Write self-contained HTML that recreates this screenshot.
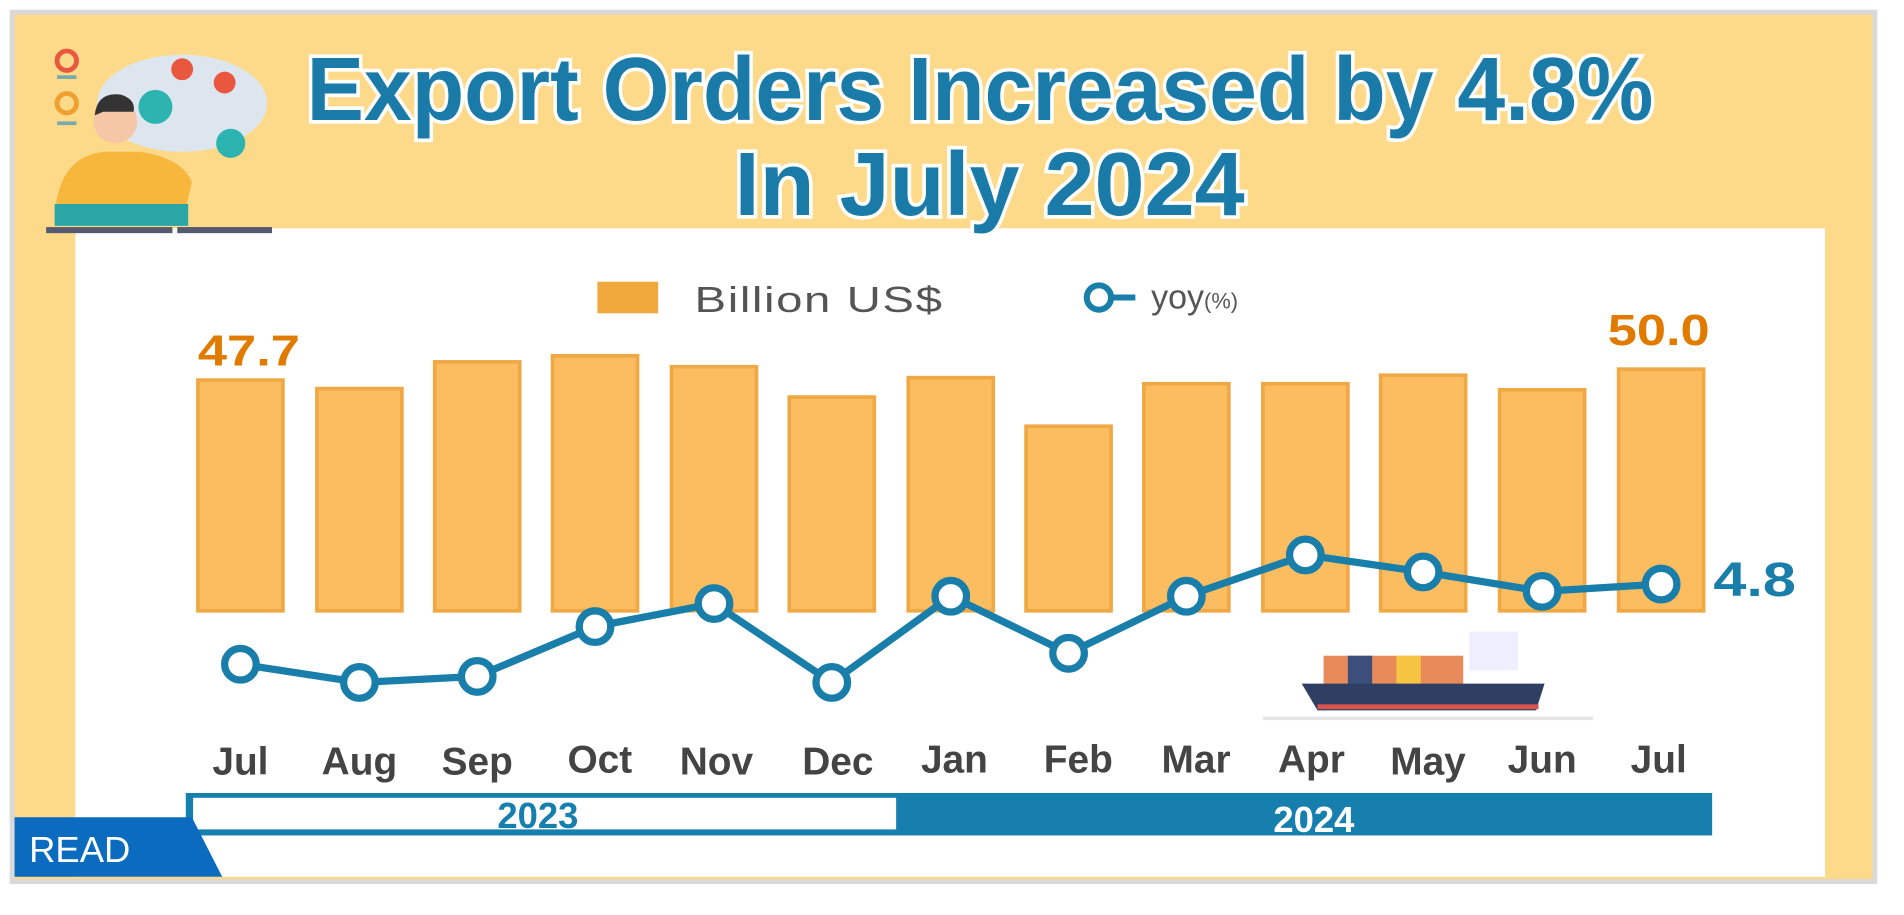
<!DOCTYPE html>
<html><head><meta charset="utf-8"><style>
html,body{margin:0;padding:0;background:#fff;}
svg{display:block;}
text{font-family:"Liberation Sans","DejaVu Sans",sans-serif;}
</style></head><body>
<svg width="1904" height="915" viewBox="0 0 1568 753.5" preserveAspectRatio="none">
<rect x="0" y="0" width="1568" height="753.5" fill="#fff"/>
<rect x="8" y="8" width="1538" height="720" fill="#d9d9d9"/>
<rect x="12" y="12" width="1530" height="712" fill="#fdd98a"/>
<rect x="62" y="188" width="1441" height="534" fill="#fff"/>
<g>
<ellipse cx="150" cy="85" rx="70" ry="40" fill="#dde6ef"/>
<circle cx="55" cy="50" r="8" fill="none" stroke="#e9573f" stroke-width="4"/>
<circle cx="55" cy="85" r="8" fill="none" stroke="#f0a030" stroke-width="4"/>
<rect x="47" y="62" width="16" height="3" fill="#7aa"/><rect x="47" y="100" width="16" height="3" fill="#7aa"/>
<circle cx="150" cy="57" r="9" fill="#e9573f"/><circle cx="185" cy="68" r="9" fill="#e9573f"/>
<circle cx="128" cy="88" r="14" fill="#2db3b0"/><circle cx="190" cy="118" r="12" fill="#2db3b0"/>
<path d="M45 185 Q45 130 85 125 L115 125 Q150 130 158 150 L150 185 Z" fill="#f6b73c"/>
<rect x="45" y="168" width="110" height="18" fill="#2aa6a6"/>
<circle cx="95" cy="100" r="18" fill="#f5c7a6"/><path d="M78 95 Q80 75 100 78 Q112 82 110 92 L85 92 Z" fill="#333"/>
<rect x="38" y="187" width="104" height="5" fill="#555a70"/><rect x="146" y="187" width="78" height="5" fill="#555a70"/>
</g>
<g font-weight="bold" fill="#1a7ba8" stroke="#fff" stroke-width="6" paint-order="stroke" text-anchor="middle" font-size="74">
<text x="807" y="99" textLength="1109" lengthAdjust="spacingAndGlyphs">Export Orders Increased by 4.8%</text>
<text x="815" y="177" textLength="420" lengthAdjust="spacingAndGlyphs">In  July 2024</text>
</g>
<rect x="492" y="232" width="50" height="26" fill="#f0a83c"/>
<text x="572" y="257" font-size="30" fill="#555" letter-spacing="1" textLength="205" lengthAdjust="spacingAndGlyphs">Billion US$</text>
<circle cx="905" cy="245" r="10" fill="#fff" stroke="#1a7eaa" stroke-width="5"/>
<line x1="915" y1="245" x2="935" y2="245" stroke="#1a7eaa" stroke-width="5"/>
<text x="948" y="254" font-size="28" fill="#555">yoy<tspan font-size="18">(%)</tspan></text>
<g fill="#fcbd61" stroke="#f0a844" stroke-width="3">
<rect x="163" y="313" width="70" height="190"/>
<rect x="261" y="320" width="70" height="183"/>
<rect x="358" y="298" width="70" height="205"/>
<rect x="455" y="293" width="70" height="210"/>
<rect x="553" y="302" width="70" height="201"/>
<rect x="650" y="327" width="70" height="176"/>
<rect x="748" y="311" width="70" height="192"/>
<rect x="845" y="351" width="70" height="152"/>
<rect x="942" y="316" width="70" height="187"/>
<rect x="1040" y="316" width="70" height="187"/>
<rect x="1137" y="309" width="70" height="194"/>
<rect x="1235" y="321" width="70" height="182"/>
<rect x="1333" y="304" width="70" height="199"/>
</g>
<text x="205" y="301" font-size="36" font-weight="bold" fill="#e07b00" text-anchor="middle" textLength="84" lengthAdjust="spacingAndGlyphs">47.7</text>
<text x="1366" y="284" font-size="36" font-weight="bold" fill="#e07b00" text-anchor="middle" textLength="84" lengthAdjust="spacingAndGlyphs">50.0</text>
<g>
<rect x="1210" y="520" width="40" height="32" fill="#eef"/>
<rect x="1090" y="540" width="115" height="25" fill="#e98a5a"/>
<rect x="1110" y="540" width="20" height="25" fill="#3b4f7a"/><rect x="1150" y="540" width="20" height="25" fill="#f6c440"/>
<path d="M1072 563 L1272 563 L1265 585 L1085 585 Z" fill="#2e3f63"/>
<rect x="1085" y="580" width="182" height="4" fill="#d9534f"/>
<rect x="1040" y="590" width="272" height="3" fill="#e5e5e5"/>
</g>
<polyline fill="none" stroke="#1a7eaa" stroke-width="6" stroke-linejoin="round" points="198,547 296,562 393,557 490,516 588,497 685,562 783,491 880,538 977,491 1075,457 1172,471 1270,487 1368,481"/>
<g fill="#fff" stroke="#1a7eaa" stroke-width="6">
<circle cx="198" cy="547" r="13"/><circle cx="296" cy="562" r="13"/><circle cx="393" cy="557" r="13"/>
<circle cx="490" cy="516" r="13"/><circle cx="588" cy="497" r="13"/><circle cx="685" cy="562" r="13"/>
<circle cx="783" cy="491" r="13"/><circle cx="880" cy="538" r="13"/><circle cx="977" cy="491" r="13"/>
<circle cx="1075" cy="457" r="13"/><circle cx="1172" cy="471" r="13"/><circle cx="1270" cy="487" r="13"/>
<circle cx="1368" cy="481" r="13"/>
</g>
<text x="1445" y="491" font-size="40" font-weight="bold" fill="#1a7eaa" text-anchor="middle" textLength="68" lengthAdjust="spacingAndGlyphs">4.8</text>
<g font-size="32" font-weight="bold" fill="#444" text-anchor="middle">
<text x="198" y="638">Jul</text><text x="296" y="638">Aug</text><text x="393" y="638">Sep</text>
<text x="494" y="636">Oct</text><text x="590" y="638">Nov</text><text x="690" y="638">Dec</text>
<text x="786" y="636">Jan</text><text x="888" y="636">Feb</text><text x="985" y="636">Mar</text>
<text x="1080" y="636">Apr</text><text x="1176" y="638">May</text><text x="1270" y="636">Jun</text><text x="1366" y="636">Jul</text>
</g>
<rect x="153" y="653" width="1257" height="35" fill="#167fae"/>
<rect x="159" y="657" width="579" height="26" fill="#fff"/>
<text x="443" y="682" font-size="30" font-weight="bold" fill="#167fae" text-anchor="middle">2023</text>
<text x="1082" y="685" font-size="30" font-weight="bold" fill="#fff" text-anchor="middle">2024</text>
<path d="M12 673 L158 673 L183 722 L12 722 Z" fill="#0a6bbf"/>
<text x="24" y="710" font-size="30" fill="#fff">READ</text>
</svg>
</body></html>
